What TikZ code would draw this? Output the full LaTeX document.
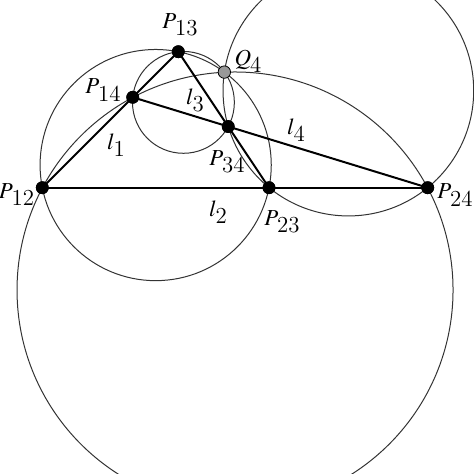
\documentclass[tikz,border=0pt]{standalone}
\usepackage{mathptmx}
\usetikzlibrary{calc}
\newcommand{\sublab}[2]{$#1$\kern-0.6pt\raisebox{-3.6bp}{#2}}
\newcommand{\circumctr}[4]{%
  \coordinate (#4m1) at ($(#1)!0.5!(#2)$);
  \coordinate (#4n1) at ($(#4m1)!1!90:(#2)$);
  \coordinate (#4m2) at ($(#1)!0.5!(#3)$);
  \coordinate (#4n2) at ($(#4m2)!1!90:(#3)$);
  \coordinate (#4) at (intersection of #4m1--#4n1 and #4m2--#4n2);}
\tikzset{
  lineseg/.style={line width=1bp, black},
  circ/.style={line width=0.5bp, black!80},
  dot/.style={circle, fill=black, inner sep=0pt, minimum size=6.4bp},
  gdot/.style={circle, fill=black!40, draw=black, line width=0.4bp, inner sep=0pt, minimum size=6.2bp},
  lab/.style={inner sep=0pt, font=\fontsize{11.5}{13}\selectfont}
}
\begin{document}
\begin{tikzpicture}[x=0.5bp, y=-0.5bp]
\useasboundingbox (0,0) rectangle (474,474);
\coordinate (P12) at (42.3,187.7);
\coordinate (P13) at (178.3,51.7);
\coordinate (P23) at (269,187.7);
\coordinate (P24) at (427.7,187.7);
\coordinate (P14) at ($(P12)!0.665!(P13)$);
\coordinate (P34) at (intersection of P14--P24 and P13--P23);
\circumctr{P12}{P13}{P23}{O123}
\circumctr{P12}{P14}{P24}{O124}
\circumctr{P13}{P14}{P34}{O134}
\circumctr{P23}{P24}{P34}{O234}
\coordinate (F) at ($(O123)!(P13)!(O134)$);
\coordinate (Q4) at ($(P13)!2!(F)$);
\begin{scope}
\clip (0,0) rectangle (474,474);
\draw[circ] let \p1=($(P12)-(O123)$), \n1={veclen(\x1,\y1)} in (O123) circle (\n1);
\draw[circ] let \p1=($(P12)-(O124)$), \n1={veclen(\x1,\y1)} in (O124) circle (\n1);
\draw[circ] let \p1=($(P13)-(O134)$), \n1={veclen(\x1,\y1)} in (O134) circle (\n1);
\draw[circ] let \p1=($(P23)-(O234)$), \n1={veclen(\x1,\y1)} in (O234) circle (\n1);
\end{scope}
\node[dot] (p12) at (P12) {};
\node[dot] (p13) at (P13) {};
\node[dot] (p14) at (P14) {};
\node[dot] (p23) at (P23) {};
\node[dot] (p24) at (P24) {};
\node[dot] (p34) at (P34) {};
\draw[lineseg] (p12.center) -- (p24.center);
\draw[lineseg] (p12.center) -- (p13.center);
\draw[lineseg] (p13.center) -- (p23.center);
\draw[lineseg] (p14.center) -- (p24.center);
\node[dot] at (P12) {};
\node[dot] at (P13) {};
\node[dot] at (P14) {};
\node[dot] at (P23) {};
\node[dot] at (P24) {};
\node[dot] at (P34) {};
\node[gdot] (q4) at (Q4) {};
\node[lab] (t12) at (16.5,194.5) {\sublab{P}{12}};
\node[lab] (t13) at (180,25) {\sublab{P}{13}};
\node[lab] (t14) at (103,90) {\sublab{P}{14}};
\node[lab] (tq4) at (248,61) {\sublab{Q}{4}};
\node[lab] (t34) at (227,162) {\sublab{P}{34}};
\node[lab] (t23) at (282,222) {\sublab{P}{23}};
\node[lab] (t24) at (455,195) {\sublab{P}{24}};
\node[lab] (tl1) at (116,145) {\sublab{l}{1}};
\node[lab] (tl2) at (218,212) {\sublab{l}{2}};
\node[lab] (tl3) at (195,100) {\sublab{l}{3}};
\node[lab] (tl4) at (296,130) {\sublab{l}{4}};
\end{tikzpicture}
\end{document}
